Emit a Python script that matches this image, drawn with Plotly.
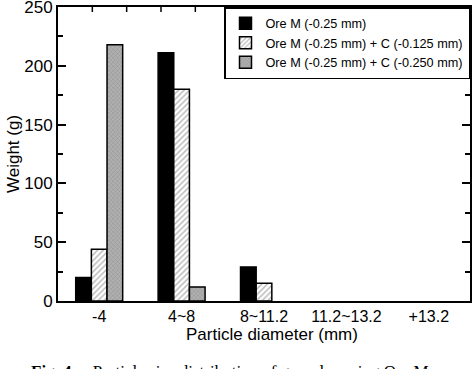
import plotly.graph_objects as go

categories = ["-4", "4~8", "8~11.2", "11.2~13.2", "+13.2"]
ore_m = [20, 211, 29, 0, 0]
ore_m_c125 = [44, 180, 15, 0, 0]
ore_m_c250 = [218, 12, 0, 0, 0]
series_names = [
    "Ore M (-0.25 mm)",
    "Ore M (-0.25 mm) + C (-0.125 mm)",
    "Ore M (-0.25 mm) + C (-0.250 mm)",
]
y_ticks = [0, 50, 100, 150, 200, 250]
top_tick_count = 12


def outline(values):
    return [1.5 if v > 0 else 0 for v in values]


fig = go.Figure()
fig.add_trace(go.Bar(
    x=categories, y=ore_m, name=series_names[0],
    marker=dict(color="black", line=dict(color="black", width=outline(ore_m))),
))
fig.add_trace(go.Bar(
    x=categories, y=ore_m_c125, name=series_names[1],
    marker=dict(color="white", line=dict(color="black", width=outline(ore_m_c125)),
                pattern=dict(shape="/", fgcolor="#6a6a6a", bgcolor="white", size=4, solidity=0.35)),
))
fig.add_trace(go.Bar(
    x=categories, y=ore_m_c250, name=series_names[2],
    marker=dict(color="#9a9a9a", line=dict(color="black", width=outline(ore_m_c250)),
                pattern=dict(shape="x", fgcolor="#707070", bgcolor="#b0b0b0", size=3, solidity=0.3)),
))

font = "Arial, Liberation Sans, sans-serif"
plot_h = 369 - 7 - 68
fig.update_layout(
    width=474, height=369,
    margin=dict(l=58, r=4, t=7, b=68, autoexpand=False),
    paper_bgcolor="white", plot_bgcolor="white",
    barmode="group", bargap=0.43, bargroupgap=0,
    font=dict(family=font, color="black", size=17),
    xaxis=dict(
        type="category", showline=True, linecolor="black", linewidth=2, mirror=True,
        ticks="", tickfont=dict(size=16), showgrid=False,
    ),
    yaxis=dict(
        range=[0, 250], tickvals=y_ticks, showline=True, linecolor="black", linewidth=2,
        mirror="ticks", ticks="inside", ticklen=8, tickwidth=1.5, tickcolor="black",
        showgrid=False, zeroline=False, tickfont=dict(size=17), ticklabeloverflow="allow",
        minor=dict(dtick=25, ticks="inside", ticklen=5, tickwidth=1.5, tickcolor="black"),
        title=dict(text="Weight (g)", font=dict(size=17), standoff=0),
    ),
    legend=dict(
        x=1, xanchor="right", y=1, yanchor="top",
        bgcolor="white", bordercolor="black", borderwidth=1.5,
        font=dict(size=12.7, family=font), itemwidth=30, tracegroupgap=0,
    ),
    showlegend=True,
)
# inward tick marks along the top frame (the legend box covers the ones on the right)
for i in range(1, top_tick_count):
    fig.add_shape(
        type="line", xref="paper", yref="paper",
        x0=i / top_tick_count, x1=i / top_tick_count, y0=1, y1=1 - 5 / plot_h,
        line=dict(color="black", width=1.5), layer="above",
    )
fig.add_annotation(
    text="Particle diameter (mm)", xref="paper", yref="paper",
    x=0.52, y=-33 / plot_h, xanchor="center", yanchor="middle",
    showarrow=False, font=dict(family=font, size=17),
)
fig.add_annotation(
    text="<b>Fig. 4</b>     Particle size distribution of granules using Ore M",
    xref="paper", yref="paper", x=-0.07, y=-0.2, xanchor="left", yanchor="top",
    showarrow=False, font=dict(family="Liberation Serif, Times New Roman, serif", size=17),
)
fig.write_html("out.html", post_script="document.body.style.margin='0';",
               config={"displayModeBar": False})
